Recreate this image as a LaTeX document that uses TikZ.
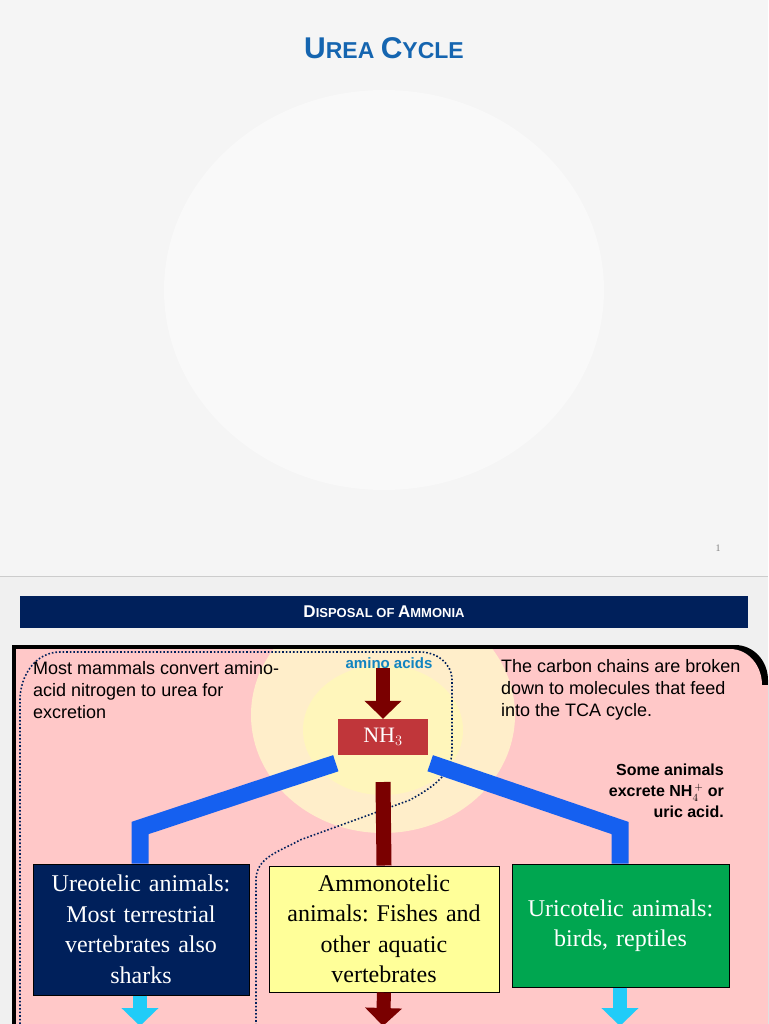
\documentclass[tikz,border=0pt]{standalone}
\usepackage{fontspec}
\setmainfont{Liberation Serif}
\setsansfont{Liberation Sans}
\usetikzlibrary{arrows.meta}
\frenchspacing
\definecolor{navy}{HTML}{00205B}
\definecolor{titleblue}{HTML}{1565B0}
\definecolor{pinkbg}{HTML}{FFC8C8}
\definecolor{nhred}{HTML}{C0363A}
\definecolor{darkred}{HTML}{7A0000}
\definecolor{bandblue}{HTML}{1560F0}
\definecolor{cyanar}{HTML}{20CCF8}
\definecolor{boxyellow}{HTML}{FFFF99}
\definecolor{boxgreen}{HTML}{00A650}
\tikzset{
  band/.style={draw=bandblue,line width=17pt,line join=miter},
  shaft/.style={draw=darkred,line width=15pt},
  animal/.style={draw=black,line width=1pt,align=center,font=\fontsize{24}{30.5}\selectfont,inner sep=0pt},
  sidetext/.style={font=\sffamily\fontsize{18}{22}\selectfont,align=left,anchor=north west,inner sep=0pt},
  bigarrow/.style={-{Triangle[width=36pt,length=18pt]},line width=14pt}
}
\begin{document}
\begin{tikzpicture}[x=1pt,y=-1pt]
\useasboundingbox (0,0) rectangle (768,1024);
\fill[gray!8] (0,0) rectangle (768,576);
\fill[white,opacity=0.4] (384,290) ellipse (220 and 200);
\draw[gray!40] (0,576) -- (768,576);
\node[text=titleblue,font=\sffamily\bfseries] (title) at (384,48) {{\fontsize{30}{34}\selectfont U}{\fontsize{23}{34}\selectfont REA }{\fontsize{30}{34}\selectfont C}{\fontsize{23}{34}\selectfont YCLE}};
\node[text=gray,font=\fontsize{10}{10}\selectfont] (pg) at (718,548) {1};
\fill[gray!12] (0,577) rectangle (768,1024);
\fill[navy] (20,596) rectangle (748,628);
\node[text=white,font=\sffamily\bfseries] (t2) at (384,612) {{\fontsize{17}{20}\selectfont D}{\fontsize{13}{20}\selectfont ISPOSAL OF }{\fontsize{17}{20}\selectfont A}{\fontsize{13}{20}\selectfont MMONIA}};
% panel
\fill[black] (12,645) -- (735,645) to[out=0,in=90] (768,680) -- (768,1024) -- (12,1024) -- cycle;
\begin{scope}
\clip (16,649) -- (730,649) to[out=0,in=90] (762,685) -- (768,685) -- (768,1024) -- (16,1024) -- cycle;
\fill[pinkbg] (0,640) rectangle (768,1024);
\fill[boxyellow!50!white,opacity=0.7] (383,715) ellipse (132 and 118);
\fill[boxyellow!80!white,opacity=0.5] (383,730) ellipse (80 and 65);
\end{scope}
% dotted region
\draw[navy,dotted,line width=1.6pt] (20,1024) -- (20,700) to[out=90,in=180] (60,652) -- (420,652) to[out=0,in=90] (452,680) -- (452,750) to[out=-90,in=30] (410,800) -- (300,840) to[out=-150,in=90] (256,880) -- (256,1024);
% texts
\node[sidetext] (lt) at (33,661) {Most mammals convert amino-\\acid nitrogen to urea for\\excretion};
\node[sidetext] (rt) at (501,659) {The carbon chains are broken\\down to molecules that feed\\into the TCA cycle.};
\node[font=\sffamily\bfseries\fontsize{15}{16}\selectfont,text=titleblue!80!cyan] (aa) at (389,663) {amino acids};
\node[font=\sffamily\bfseries\fontsize{16}{21}\selectfont,align=right,anchor=north east,inner sep=0pt] (some) at (724,764) {Some animals\\excrete NH$_4^{\,+}$ or\\uric acid.};
% NH3
\node[fill=nhred,minimum width=90pt,minimum height=36pt,text=white,font=\fontsize{22}{24}\selectfont,inner sep=0pt] (nh) at (383,737) {NH$_3$};
\coordinate (atop) at (383,668);
\draw[bigarrow,darkred] (atop) -- (nh.north);
% boxes
\node[animal,fill=navy,text=white,minimum width=216pt,minimum height=131pt,text width=214pt] (ureo) at (141,929.5) {Ureotelic animals:\\Most terrestrial\\vertebrates also\\sharks};
\node[animal,fill=boxyellow,minimum width=230pt,minimum height=126pt,text width=228pt] (ammo) at (384,929) {Ammonotelic\\animals: Fishes and\\other aquatic\\vertebrates};
\node[animal,fill=boxgreen,text=white,minimum width=217pt,minimum height=123pt,text width=215pt] (uric) at (620.5,925.5) {Uricotelic animals:\\birds, reptiles};
% bands
\coordinate (lb) at (140,828);
\coordinate (rb) at (620,828);
\draw[band] (nh.south west) ++(-2,8) -- (lb) -- (ureo.north -| lb);
\draw[band] (nh.south east) ++(2,8) -- (rb) -- (uric.north -| rb);
\coordinate (cs) at (383,782);
\draw[shaft] (cs) -- (ammo.north);
% bottom arrows
\coordinate (lend) at (140,1026);
\coordinate (mend) at (383,1026);
\coordinate (rend) at (620,1026);
\draw[bigarrow,cyanar] (ureo.south -| lend) -- (lend);
\draw[bigarrow,darkred] (ammo.south) -- (mend);
\draw[bigarrow,cyanar] (uric.south -| rend) -- (rend);
\end{tikzpicture}
\end{document}
